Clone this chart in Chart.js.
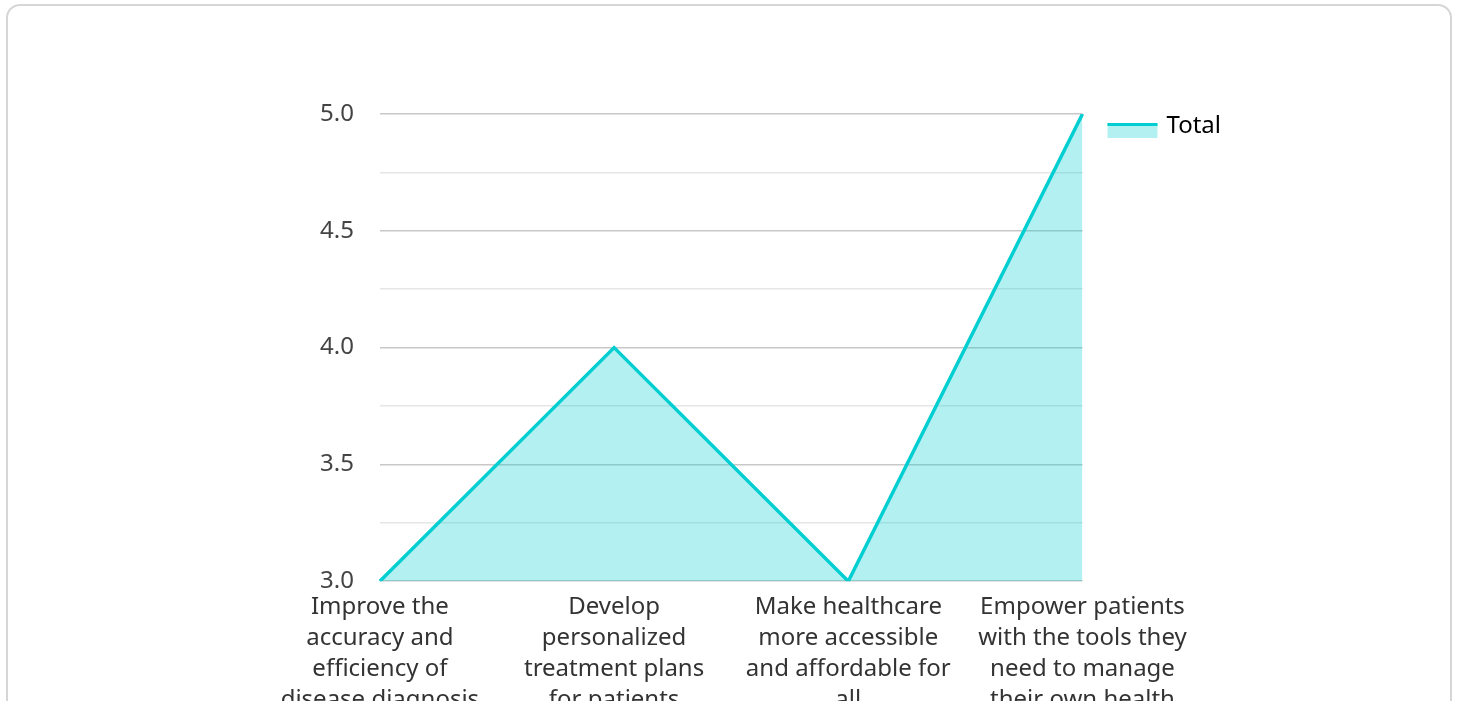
<!DOCTYPE html>
<html>
<head>
<meta charset="utf-8">
<script src="https://cdn.jsdelivr.net/npm/chart.js@4/dist/chart.umd.min.js"></script>
<style>
  html, body { margin: 0; padding: 0; background: #fff; overflow: hidden; }
  .card {
    position: absolute; left: 6px; top: 4px; width: 1446px; height: 760px;
    box-sizing: border-box; border: 2px solid #d6d6d6; border-radius: 14px; background: #fff;
  }
  canvas { display: block; }
</style>
</head>
<body>
<div class="card"><canvas id="chart" width="1442" height="756"></canvas></div>
<script>
// Goals of AI in healthcare, scored 1-5 (Total)
const categories = [
  ['Improve the', 'accuracy and', 'efficiency of', 'disease diagnosis'],
  ['Develop', 'personalized', 'treatment plans', 'for patients'],
  ['Make healthcare', 'more accessible', 'and affordable for', 'all'],
  ['Empower patients', 'with the tools they', 'need to manage', 'their own health']
];
const totalValues = [3, 4, 3, 5];
const seriesLabel = 'Total';
const yMin = 3, yMax = 5, yStep = 0.25;

const LINE = '#00CED1';
const FILL = 'rgba(0, 206, 209, 0.3)';
const FONT = "'Noto Sans', 'Open Sans', sans-serif";

// legend swatch: light fill with the line colour along its top edge
const legendSwatch = {
  id: 'legendSwatch',
  afterDraw(chart) {
    const hb = chart.legend && chart.legend.legendHitBoxes[0];
    if (!hb) return;
    const c = chart.ctx;
    const x = hb.left + 25, mid = hb.top + hb.height / 2;
    c.save();
    c.fillStyle = FILL;
    c.fillRect(x, mid - 3, 50, 15);
    c.fillStyle = LINE;
    c.fillRect(x, mid - 3, 50, 3);
    c.restore();
  }
};

new Chart(document.getElementById('chart'), {
  type: 'line',
  data: {
    labels: categories,
    datasets: [{
      label: seriesLabel,
      data: totalValues,
      borderColor: LINE,
      backgroundColor: FILL,
      borderWidth: 3.5,
      fill: 'start',
      tension: 0,
      pointRadius: 0
    }]
  },
  options: {
    responsive: false,
    animation: false,
    layout: { padding: { left: 286, right: 219, top: 108, bottom: 44 } },
    plugins: {
      tooltip: { enabled: false },
      legend: {
        position: 'right',
        align: 'start',
        labels: {
          boxWidth: 72,
          boxHeight: 15,
          padding: 0,
          color: '#333',
          font: { family: FONT, size: 24 },
          generateLabels(chart) {
            return chart.data.datasets.map((ds, i) => ({
              text: ds.label,
              fillStyle: 'rgba(0,0,0,0)',
              strokeStyle: 'rgba(0,0,0,0)',
              lineWidth: 0,
              datasetIndex: i,
              hidden: false
            }));
          }
        }
      }
    },
    scales: {
      x: {
        grid: { display: false },
        border: { display: false },
        ticks: {
          color: '#333',
          font: { family: FONT, size: 24, lineHeight: 1.3 },
          padding: 2,
          maxRotation: 0,
          autoSkip: false
        }
      },
      y: {
        min: yMin,
        max: yMax,
        border: { display: false },
        grid: {
          drawTicks: false,
          lineWidth: 1.5,
          color: (ctx) => (ctx.tick && Math.abs(ctx.tick.value * 2 - Math.round(ctx.tick.value * 2)) < 1e-6) ? '#c8c8c8' : '#e6e6e6'
        },
        ticks: {
          stepSize: yStep,
          padding: 26,
          color: '#444',
          font: { family: FONT, size: 24 },
          callback: (v) => (Math.abs(v * 2 - Math.round(v * 2)) < 1e-6) ? v.toFixed(1) : ''
        }
      }
    }
  },
  plugins: [legendSwatch]
});
</script>
</body>
</html>
